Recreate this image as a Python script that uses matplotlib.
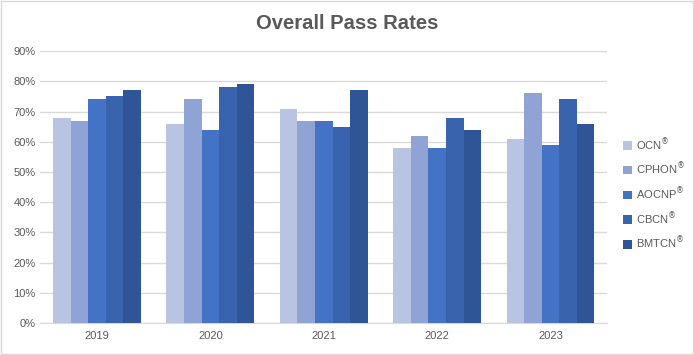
import matplotlib.pyplot as plt
import numpy as np

plt.rcParams["font.family"] = ["Liberation Sans", "DejaVu Sans"]

years = ["2019", "2020", "2021", "2022", "2023"]
exams = ["OCN$^{\u00ae}$", "CPHON$^{\u00ae}$", "AOCNP$^{\u00ae}$", "CBCN$^{\u00ae}$", "BMTCN$^{\u00ae}$"]
ocn = [68, 66, 71, 58, 61]
cphon = [67, 74, 67, 62, 76]
aocnp = [74, 64, 67, 58, 59]
cbcn = [75, 78, 65, 68, 74]
bmtcn = [77, 79, 77, 64, 66]
colors = ["#B9C3E2", "#8FA4D4", "#4472C4", "#3A63AD", "#2F5597"]

series = [ocn, cphon, aocnp, cbcn, bmtcn]

fig = plt.figure(figsize=(6.94, 3.55), dpi=100)
ax = fig.add_axes([0.058, 0.09, 0.817, 0.766])

x = np.arange(len(years))
w = 0.155
for i, (vals, lab, c) in enumerate(zip(series, exams, colors)):
    ax.bar(x + (i - 2) * w, np.array(vals) / 100, w, color=c, label=lab, zorder=3)

ax.set_xlim(-0.5, len(years) - 0.5)
ax.set_ylim(0, 0.9)
ax.set_yticks(np.arange(0, 0.91, 0.1))
ax.set_yticklabels(["%d%%" % v for v in range(0, 91, 10)])
ax.set_xticks(x)
ax.set_xticklabels(years)
ax.grid(axis="y", color="#D9D9D9", linewidth=1, zorder=0)
for s in ["top", "right", "left"]:
    ax.spines[s].set_visible(False)
ax.spines["bottom"].set_color("#D9D9D9")
ax.tick_params(length=0, colors="#595959", labelsize=8)
ax.tick_params(axis="x", pad=6)

fig.text(0.5, 0.935, "Overall Pass Rates", ha="center", va="center",
         fontsize=14.6, fontweight="bold", color="#595959")

leg = ax.legend(loc="center left", bbox_to_anchor=(1.01, 0.475), frameon=False,
                fontsize=8, handlelength=0.8, handleheight=0.8,
                labelspacing=0.75, handletextpad=0.4)
for t in leg.get_texts():
    t.set_color("#595959")

fig.patches.append(plt.Rectangle((0.001, 0.002), 0.997, 0.995, transform=fig.transFigure,
                                 fill=False, edgecolor="#D9D9D9", linewidth=1))

fig.savefig("out.png", dpi=100)
